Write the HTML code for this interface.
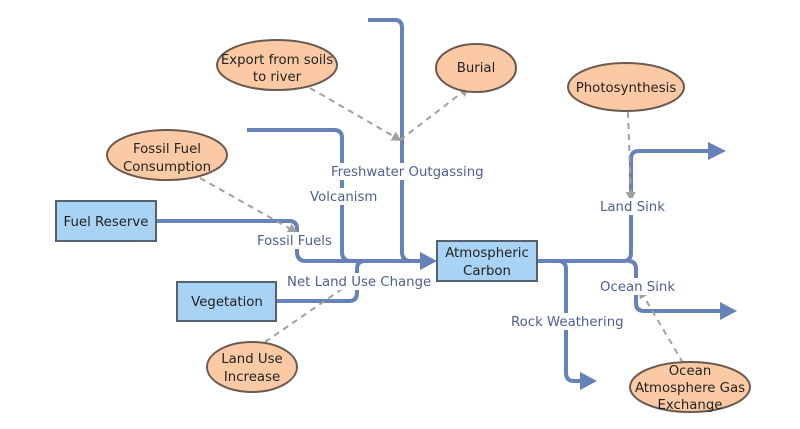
<!DOCTYPE html>
<html><head><meta charset="utf-8"><style>
html,body{margin:0;padding:0;background:#fff;}
svg{display:block;}
text{font-family:"DejaVu Sans","Liberation Sans",sans-serif;font-size:13.3px;}
.l{fill:#4f5f8f;}
.n{fill:#222;text-anchor:middle;}
</style></head><body>
<svg width="800" height="429" viewBox="0 0 800 429" xmlns="http://www.w3.org/2000/svg">
<defs>
<marker id="g" markerWidth="10" markerHeight="10" refX="8" refY="5" orient="auto" markerUnits="userSpaceOnUse"><path d="M0,0 L10,5 L0,10 z" fill="#a0a0a0"/></marker>
</defs>
<g fill="none" stroke="#6781b9" stroke-width="4" stroke-linejoin="round">
<path d="M368,20 H395 Q402,20 402,28 V252 Q402,261 411,261"/>
<path d="M247,130 H334 Q342,130 342,138 V252 Q342,261 351,261"/>
<path d="M156,221 H289 Q297,221 297,229 V252 Q297,261 306,261 H425"/>
<path d="M276,301 H349 Q357,301 357,293 V269 Q357,261 365,261"/>
<path d="M537,261 H623 Q631,261 631,253 V159 Q631,151 639,151 H712"/>
<path d="M558,261 Q566,261 566,269 V373 Q566,381 574,381 H585"/>
<path d="M628,261 Q636,261 636,269 V303 Q636,311 644,311 H724"/>
</g>
<g fill="#6781b9">
<path d="M420,252 L437,261 L420,270 z"/>
<path d="M708,142 L726,151 L708,160 z"/>
<path d="M580,372 L597,381 L580,390 z"/>
<path d="M720,302 L737,311 L720,320 z"/>
</g>
<g stroke="#a0a0a0" stroke-width="2" stroke-dasharray="6,5" fill="none" marker-end="url(#g)">
<path d="M310,88 L400,140"/>
<path d="M400,140 L468,88"/>
<path d="M200,178 L296,232"/>
<path d="M628,112 L631,200"/>
<path d="M265,342 L358,278"/>
<path d="M683,363 L640,290"/>
</g>
<g fill="#fbcaa5" stroke="#6b5a50" stroke-width="2">
<ellipse cx="277" cy="65" rx="60" ry="25"/>
<ellipse cx="476" cy="68" rx="40" ry="24"/>
<ellipse cx="626" cy="87" rx="58" ry="24"/>
<ellipse cx="167" cy="155" rx="60" ry="25"/>
<ellipse cx="252" cy="367" rx="45" ry="25"/>
<ellipse cx="690" cy="387" rx="60" ry="25"/>
</g>
<g fill="#a9d3f5" stroke="#55616e" stroke-width="2">
<rect x="56" y="201" width="100" height="40"/>
<rect x="177" y="282" width="99" height="39"/>
<rect x="437" y="241" width="100" height="40"/>
</g>
<g class="n">
<text x="277" y="64">Export from soils</text><text x="277" y="81">to river</text>
<text x="476" y="72">Burial</text>
<text x="626" y="92">Photosynthesis</text>
<text x="167" y="153">Fossil Fuel</text><text x="167" y="171">Consumption</text>
<text x="252" y="363">Land Use</text><text x="252" y="381">Increase</text>
<text x="690" y="375">Ocean</text><text x="690" y="392">Atmosphere Gas</text><text x="690" y="409">Exchange</text>
<text x="106" y="226">Fuel Reserve</text>
<text x="227" y="306">Vegetation</text>
<text x="487" y="257">Atmospheric</text><text x="487" y="275">Carbon</text>
</g>
<g fill="#fff">
<rect x="330" y="163" width="156" height="17"/>
<rect x="308" y="188" width="68" height="17"/>
<rect x="255" y="232" width="84" height="17"/>
<rect x="286" y="273" width="142" height="17"/>
<rect x="598" y="198" width="68" height="17"/>
<rect x="598" y="278" width="78" height="17"/>
<rect x="509" y="313" width="118" height="17"/>
</g>
<g class="l">
<text x="331" y="176">Freshwater Outgassing</text>
<text x="310" y="201">Volcanism</text>
<text x="257" y="245">Fossil Fuels</text>
<text x="287" y="286">Net Land Use Change</text>
<text x="600" y="211">Land Sink</text>
<text x="600" y="291">Ocean Sink</text>
<text x="511" y="326">Rock Weathering</text>
</g>
</svg>
</body></html>
